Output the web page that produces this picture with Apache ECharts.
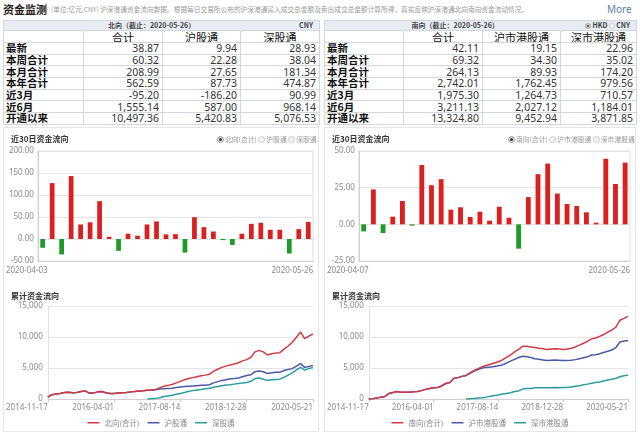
<!DOCTYPE html>
<html><head><meta charset="utf-8">
<script src="https://cdn.jsdelivr.net/npm/echarts@6/dist/echarts.min.js"></script>
<style>
body{margin:0;width:640px;height:435px;background:#fff;font-family:"Noto Sans","Noto Sans CJK SC",sans-serif;position:relative;overflow:hidden}
.abs{position:absolute}
.hdrT{left:3px;top:1px;font-size:11px;font-weight:bold;color:#222;font-family:"Noto Sans CJK SC",sans-serif}
.hdrD{left:51px;top:4px;font-size:6.7px;color:#9a9a9a;font-family:"Noto Sans CJK SC",sans-serif;white-space:nowrap}
.more{left:607px;top:2px;font-size:10px;color:#5b7fa6}
table{border-collapse:collapse;table-layout:fixed;position:absolute}
td{border:1px solid #d3d7dc;padding:0 3px;height:10.7px;font-size:10.5px;line-height:10px;color:#333;white-space:nowrap;overflow:hidden}
td.lab{font-weight:bold;color:#111;font-family:"Noto Sans CJK SC",sans-serif;padding-left:2px}
td.num{text-align:right}
tr.head td{text-align:center;height:11px;font-size:11px;color:#111;font-family:"Noto Sans CJK SC",sans-serif}
tr.ttl td{background:#e8edf3;height:9px;font-size:7px;line-height:9px;font-weight:bold;color:#444;padding:0}
.ttlw{display:flex;align-items:center;font-family:"Noto Sans CJK SC",sans-serif}
.ttlw .c{flex:1;text-align:center}
.ttlw .r{padding-right:6px;font-weight:bold}
.panel{position:absolute;border:1px solid #e6e6e6;box-sizing:border-box}
.ptitle{position:absolute;font-size:8px;font-weight:bold;color:#333;font-family:"Noto Sans CJK SC",sans-serif;z-index:2}
.radio{position:absolute;font-size:6.8px;color:#999;font-family:"Noto Sans CJK SC",sans-serif;white-space:nowrap;z-index:2}
.dot{display:inline-block;width:5px;height:5px;border-radius:50%;border:1px solid #ccc;background:#f4f4f4;vertical-align:-1px;margin-right:1px}
.dot.on{background:#333;border-color:#bbb;box-shadow:inset 0 0 0 1px #eee}
.chart{position:absolute}
</style></head>
<body>
<div class="abs hdrT">资金监测</div>
<div class="abs hdrD">(单位:亿元,CNY) 沪深港通资金流向数据。根据每日交易所公布的沪深港通买入成交总金额及卖出成交总金额计算所得，真实反映沪深港通北向南向资金流动情况。</div>
<div class="abs more">More</div>

<table id="tblN" style="left:3px;top:20px;width:316px"></table>
<table id="tblS" style="left:324px;top:20px;width:312px"></table>

<div class="panel" style="left:3px;top:127px;width:316px;height:305px"></div>
<div class="panel" style="left:324px;top:127px;width:312px;height:305px"></div>

<div class="ptitle" style="left:11px;top:133px">近30日资金流向</div>
<div class="radio" style="left:217px;top:134px"><span class="dot on"></span>北向(合计) <span class="dot"></span>沪股通 <span class="dot"></span>深股通</div>
<div class="ptitle" style="left:332px;top:133px">近30日资金流向</div>
<div class="radio" style="left:508px;top:134px"><span class="dot on"></span>南向(合计) <span class="dot"></span>沪市港股通 <span class="dot"></span>深市港股通</div>
<div class="ptitle" style="left:11px;top:290px">累计资金流向</div>
<div class="ptitle" style="left:332px;top:290px">累计资金流向</div>

<div id="barN" class="chart" style="left:3px;top:128px;width:316px;height:154px"></div>
<div id="barS" class="chart" style="left:324px;top:128px;width:312px;height:154px"></div>
<div id="lineN" class="chart" style="left:3px;top:284px;width:316px;height:148px"></div>
<div id="lineS" class="chart" style="left:324px;top:284px;width:312px;height:148px"></div>

<script>
// ---------- table data ----------
const rowLabels = ['最新','本周合计','本月合计','本年合计','近3月','近6月','开通以来'];
const northHeads = ['合计','沪股通','深股通'];
const northTotal = [38.87, 60.32, 208.99, 562.59, -95.20, 1555.14, 10497.36];
const northSH    = [9.94, 22.28, 27.65, 87.73, -186.20, 587.00, 5420.83];
const northSZ    = [28.93, 38.04, 181.34, 474.87, 90.99, 968.14, 5076.53];
const southHeads = ['合计','沪市港股通','深市港股通'];
const southTotal = [42.11, 69.32, 264.13, 2742.01, 1975.30, 3211.13, 13324.80];
const southSH    = [19.15, 34.30, 89.93, 1762.45, 1264.73, 2027.12, 9452.94];
const southSZ    = [22.96, 35.02, 174.20, 979.56, 710.57, 1184.01, 3871.85];

// ---------- 30-day bar data ----------
const northDays = ['2020-04-03','2020-04-07','2020-04-08','2020-04-14','2020-04-15','2020-04-16','2020-04-17','2020-04-20','2020-04-21','2020-04-22','2020-04-23','2020-04-24','2020-04-27','2020-04-28','2020-05-06','2020-05-07','2020-05-08','2020-05-11','2020-05-12','2020-05-13','2020-05-14','2020-05-15','2020-05-18','2020-05-19','2020-05-20','2020-05-21','2020-05-22','2020-05-25','2020-05-26'];
const northFlow = [-20, 127, -35, 143, 33, 38, 86, 5, -27, 12, 7.5, 33, 40, 10.5, 11, -31, 49.5, 27, 17, -2.5, -13.5, 12, 34.5, 37, 21, 21, -33, 22.5, 38.87];
const southDays = ['2020-04-07','2020-04-08','2020-04-14','2020-04-15','2020-04-16','2020-04-17','2020-04-20','2020-04-21','2020-04-22','2020-04-23','2020-04-24','2020-04-27','2020-04-28','2020-05-06','2020-05-07','2020-05-08','2020-05-11','2020-05-12','2020-05-13','2020-05-14','2020-05-15','2020-05-18','2020-05-19','2020-05-20','2020-05-21','2020-05-22','2020-05-25','2020-05-26'];
const southFlow = [-4.8, 23.8, -5.9, 5.2, 15.9, -0.9, 40.5, 26.7, 30.8, 10, 11.6, 5, 8.6, 2.5, 12, 4.5, -16.6, 18.6, 34.2, 41.4, 21, 13.9, 12.5, 8.2, 1.1, 44.7, 27.5, 42.11];

// ---------- cumulative line data ----------
const cumDates = ['2014-11-17','2014-12-18','2015-01-19','2015-02-18','2015-03-20','2015-04-21','2015-05-21','2015-06-22','2015-07-22','2015-08-21','2015-09-22','2015-10-23','2015-11-23','2015-12-23','2016-01-25','2016-02-29','2016-04-01',
'2016-05-03','2016-06-03','2016-07-04','2016-08-04','2016-09-05','2016-10-06','2016-11-07','2016-12-07','2017-01-09','2017-02-09','2017-03-13','2017-04-13','2017-05-15','2017-06-15','2017-07-14','2017-08-14',
'2017-09-14','2017-10-16','2017-11-16','2017-12-18','2018-01-18','2018-02-20','2018-03-22','2018-04-23','2018-05-24','2018-06-25','2018-07-26','2018-08-27','2018-09-26','2018-10-29','2018-11-28','2018-12-28',
'2019-01-30','2019-03-04','2019-04-04','2019-05-06','2019-06-06','2019-07-08','2019-08-08','2019-09-09','2019-10-10','2019-11-11','2019-12-12','2020-01-13','2020-02-14','2020-03-17','2020-04-17','2020-05-21'];
const cumNorth = [300,700,800,900,1050,1100,1000,1050,1200,1300,950,950,1150,1200,1000,900,900,
 950,1000,1050,1150,1200,1300,1350,1400,1450,1550,1800,2050,2200,2350,2600,2850,
 3100,3300,3450,3600,3750,3850,4000,4450,4800,5100,5300,5500,5650,5850,6150,6350,
 6700,7600,7850,7600,7100,7300,7400,7450,8050,8550,9150,9950,10800,9750,10150,10497];
const cumNorthSH = [300,700,800,900,1050,1100,1000,1050,1200,1300,950,950,1150,1200,1000,900,900,
 950,1000,1050,1150,1200,1300,1350,1400,1400,1500,1600,1650,1700,1750,1850,1950,
 2000,2050,2100,2150,2200,2200,2300,2600,2800,3000,3100,3250,3300,3400,3600,3800,
 3900,4400,4500,4400,4100,4250,4300,4300,4600,4750,4900,5300,5700,5100,5250,5421];
const cumNorthSZ = [null,null,null,null,null,null,null,null,null,null,null,null,null,null,null,null,null,
 null,null,null,null,null,null,null,0,50,100,200,400,500,600,750,900,
 1050,1250,1350,1450,1550,1650,1750,1900,2000,2150,2250,2300,2400,2500,2600,2650,
 2850,3300,3400,3200,3000,3100,3150,3200,3500,3850,4200,4700,5100,4650,4900,5077];
const cumSouth = [0,50,150,300,400,900,1050,1200,1100,1100,1100,1150,1200,1350,1550,1700,1800,
 1850,2100,2500,2650,3300,3450,3650,3800,4200,4600,4900,5200,5400,5600,5800,6000,
 6300,6700,7100,7600,8000,8500,8500,8400,8300,8200,8100,8000,8050,8100,8050,8000,
 8050,8200,8400,8700,9000,9300,9700,9850,10100,10400,10800,11100,11600,12700,13000,13325];
const cumSouthSH = [0,50,150,300,400,900,1050,1200,1100,1100,1100,1150,1200,1350,1550,1700,1800,
 1850,2100,2500,2650,3300,3450,3650,3800,4150,4500,4750,5000,5100,5150,5250,5350,
 5500,5800,6100,6400,6700,6900,6800,6700,6500,6400,6300,6200,6250,6300,6250,6200,
 6200,6250,6350,6500,6650,6800,7100,7150,7300,7500,7700,7900,8300,9200,9350,9453];
const cumSouthSZ = [null,null,null,null,null,null,null,null,null,null,null,null,null,null,null,null,null,
 null,null,null,null,null,null,null,0,50,100,150,200,300,450,550,650,
 800,900,1000,1200,1300,1600,1700,1700,1800,1800,1800,1800,1800,1850,1800,1850,
 1850,1950,2050,2150,2300,2400,2550,2650,2750,2900,3050,3200,3350,3600,3750,3872];
const northNames = ['北向(合计)','沪股通','深股通'];
const southNames = ['南向(合计)','沪市港股通','深市港股通'];

// ---------- build tables ----------
function fmt(v){return v.toLocaleString('en-US',{minimumFractionDigits:2,maximumFractionDigits:2});}
function buildTable(id, title, right, heads, cols, widths){
  const t = document.getElementById(id);
  let h = '<colgroup>' + widths.map(w=>'<col style="width:'+w+'px">').join('') + '</colgroup>';
  h += '<tr class="ttl"><td colspan="4"><div class="ttlw"><span class="c">'+title+'</span><span class="r">'+right+'</span></div></td></tr>';
  h += '<tr class="head"><td></td>' + heads.map(x=>'<td>'+x+'</td>').join('') + '</tr>';
  rowLabels.forEach((lab,i)=>{
    h += '<tr><td class="lab">'+lab+'</td>' + cols.map(c=>'<td class="num">'+fmt(c[i])+'</td>').join('') + '</tr>';
  });
  t.innerHTML = h;
}
buildTable('tblN','北向（截止：2020-05-26）','CNY',northHeads,[northTotal,northSH,northSZ],[80,79,78,79]);
buildTable('tblS','南向（截止：2020-05-26）','<span class="dot on" style="width:4px;height:4px"></span>HKD <span class="dot" style="width:4px;height:4px;background:#fff"></span>CNY',southHeads,[southTotal,southSH,southSZ],[79,79,78,76]);

// ---------- charts ----------
const RED = '#dc1f1f', GREEN = '#1f9a2a';
const LINE_COLORS = ['#cf3a45','#4b5ba3','#2c9c9c'];
const axisTxt = {color:'#8a8a8a', fontSize:8, fontFamily:'Noto Sans'};

function barOpt(cats, vals, min, max, interval, gridLeft, gridWidth){
  return {
    animation:false,
    grid:{left:gridLeft, top:23, width:gridWidth, height:110, show:true, borderColor:'#e0e0e0', borderWidth:1},
    xAxis:{type:'category', data:cats, boundaryGap:true,
      axisLine:{onZero:false, lineStyle:{color:'#d0d0d0'}}, axisTick:{show:false},
      axisLabel:Object.assign({interval:(i)=> i===0 || i===cats.length-1, align:'right', padding:[0,-5,0,0], margin:6}, axisTxt)},
    yAxis:{type:'value', min:min, max:max, interval:interval,
      axisLine:{show:true, lineStyle:{color:'#d0d0d0'}}, axisTick:{show:false},
      axisLabel:Object.assign({formatter:v=>v.toFixed(2), margin:4}, axisTxt),
      splitLine:{lineStyle:{color:'#e4e4e4'}}},
    series:[{type:'bar', data:vals, barWidth:'50%',
      itemStyle:{color:p=> p.value>=0 ? RED : GREEN}}]
  };
}
function lineOpt(names, datas, gridLeft, gridWidth){
  return {
    animation:false,
    color:LINE_COLORS,
    grid:{left:gridLeft, top:22, width:gridWidth, height:93},
    legend:{data:names, top:130, left:'center', icon:'rect', itemWidth:12, itemHeight:1.5, itemGap:8,
      textStyle:{color:'#888', fontSize:7.5, fontFamily:'Noto Sans CJK SC'}},
    xAxis:{type:'category', data:cumDates, boundaryGap:false,
      axisLine:{lineStyle:{color:'#d0d0d0'}},
      axisTick:{interval:15, length:3, lineStyle:{color:'#c8c8c8'}},
      axisLabel:Object.assign({interval:15, align:'right', margin:5, showMaxLabel:true}, axisTxt)},
    yAxis:{type:'value', min:0, max:15000, interval:5000,
      axisLine:{show:true, lineStyle:{color:'#e0e0e0'}}, axisTick:{show:false},
      axisLabel:Object.assign({formatter:v=>v.toLocaleString('en-US'), margin:5}, axisTxt),
      splitLine:{lineStyle:{color:'#e4e4e4'}}},
    series:names.map((n,i)=>({name:n, type:'line', data:datas[i], showSymbol:false, symbol:'none',
      lineStyle:{width:1.5}, z: i===0 ? 4 : 3-i}))
  };
}
echarts.init(document.getElementById('barN')).setOption(barOpt(northDays, northFlow, -50, 200, 50, 30, 280));
echarts.init(document.getElementById('barS')).setOption(barOpt(southDays, southFlow, -25, 50, 25, 31, 275));
echarts.init(document.getElementById('lineN')).setOption(lineOpt(northNames, [cumNorth, cumNorthSH, cumNorthSZ], 34, 276));
echarts.init(document.getElementById('lineS')).setOption(lineOpt(southNames, [cumSouth, cumSouthSH, cumSouthSZ], 36, 268));
</script>
</body></html>
